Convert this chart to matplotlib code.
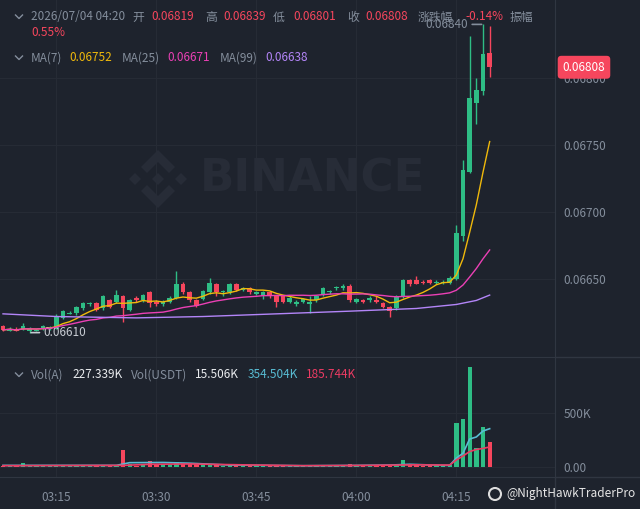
import matplotlib
matplotlib.use('Agg')
import matplotlib.pyplot as plt
import matplotlib.transforms as mtransforms
from matplotlib.patches import Polygon
from matplotlib.lines import Line2D
import numpy as np
import pandas as pd

plt.rcParams['font.family'] = ['Noto Sans CJK SC', 'DejaVu Sans']

# 1 minute candles, 03:07 -> 04:20
times = pd.date_range('2026-07-04 03:07', periods=74, freq='min')

opens = [
    0.06615, 0.06611, 0.06613, 0.06613, 0.06611, 0.06611, 0.06613, 0.06613, 0.06613, 0.06621,
    0.06624, 0.06625, 0.06628, 0.06631, 0.06632, 0.06628, 0.06634, 0.06633, 0.06637, 0.06627,
    0.06636, 0.06634, 0.06640, 0.06633, 0.06631, 0.06633, 0.06636, 0.06646, 0.06640, 0.06634,
    0.06635, 0.06640, 0.06646, 0.06640, 0.06640, 0.06646, 0.06642, 0.06643, 0.06639, 0.06637,
    0.06640, 0.06637, 0.06637, 0.06633, 0.06631, 0.06633, 0.06631, 0.06634, 0.06638, 0.06640,
    0.06643, 0.06643, 0.06645, 0.06633, 0.06634, 0.06634, 0.06634, 0.06632, 0.06629, 0.06628,
    0.06637, 0.06649, 0.06649, 0.06648, 0.06649, 0.06647, 0.06647, 0.06647, 0.06650, 0.06682,
    0.06730, 0.06781, 0.06790, 0.06819]
highs = [
    0.06616, 0.06614, 0.06614, 0.06617, 0.06614, 0.06613, 0.06616, 0.06615, 0.06624, 0.06627,
    0.06626, 0.06630, 0.06633, 0.06633, 0.06633, 0.06638, 0.06635, 0.06642, 0.06638, 0.06635,
    0.06637, 0.06639, 0.06641, 0.06634, 0.06634, 0.06637, 0.06656, 0.06648, 0.06641, 0.06635,
    0.06642, 0.06651, 0.06647, 0.06642, 0.06647, 0.06647, 0.06644, 0.06644, 0.06641, 0.06641,
    0.06641, 0.06638, 0.06638, 0.06637, 0.06634, 0.06636, 0.06637, 0.06638, 0.06644, 0.06642,
    0.06645, 0.06646, 0.06646, 0.06636, 0.06635, 0.06637, 0.06637, 0.06633, 0.06630, 0.06638,
    0.06650, 0.06650, 0.06652, 0.06649, 0.06650, 0.06649, 0.06649, 0.06652, 0.06690, 0.06739,
    0.06831, 0.06800, 0.06840, 0.06839]
lows = [
    0.06611, 0.06611, 0.06611, 0.06612, 0.06610, 0.06611, 0.06612, 0.06612, 0.06613, 0.06620,
    0.06624, 0.06623, 0.06627, 0.06630, 0.06626, 0.06627, 0.06628, 0.06632, 0.06618, 0.06626,
    0.06633, 0.06633, 0.06629, 0.06630, 0.06630, 0.06632, 0.06635, 0.06639, 0.06633, 0.06629,
    0.06634, 0.06639, 0.06637, 0.06637, 0.06639, 0.06641, 0.06641, 0.06639, 0.06638, 0.06635,
    0.06636, 0.06629, 0.06632, 0.06632, 0.06630, 0.06632, 0.06625, 0.06633, 0.06637, 0.06639,
    0.06642, 0.06642, 0.06633, 0.06632, 0.06632, 0.06633, 0.06632, 0.06628, 0.06622, 0.06627,
    0.06636, 0.06645, 0.06646, 0.06646, 0.06646, 0.06646, 0.06646, 0.06646, 0.06649, 0.06678,
    0.06729, 0.06766, 0.06787, 0.06801]
closes = [
    0.06612, 0.06613, 0.06611, 0.06615, 0.06613, 0.06612, 0.06615, 0.06614, 0.06622, 0.06626,
    0.06625, 0.06629, 0.06632, 0.06632, 0.06627, 0.06637, 0.06629, 0.06638, 0.06628, 0.06634,
    0.06634, 0.06638, 0.06632, 0.06631, 0.06633, 0.06636, 0.06646, 0.06640, 0.06634, 0.06630,
    0.06641, 0.06647, 0.06640, 0.06641, 0.06646, 0.06642, 0.06643, 0.06640, 0.06640, 0.06640,
    0.06637, 0.06633, 0.06633, 0.06636, 0.06633, 0.06635, 0.06633, 0.06637, 0.06643, 0.06641,
    0.06644, 0.06645, 0.06634, 0.06635, 0.06633, 0.06636, 0.06633, 0.06629, 0.06626, 0.06637,
    0.06649, 0.06646, 0.06646, 0.06647, 0.06647, 0.06648, 0.06648, 0.06651, 0.06684, 0.06731,
    0.06785, 0.06791, 0.06818, 0.06808]
# volume in K
volumes = [
    12, 10, 12, 37, 15, 10, 12, 10, 20, 15,
    10, 12, 15, 10, 14, 18, 12, 15, 157, 25,
    12, 20, 59, 30, 20, 22, 49, 25, 30, 28,
    22, 15, 20, 12, 15, 14, 10, 12, 10, 12,
    15, 10, 12, 10, 8, 10, 10, 12, 10, 10,
    12, 10, 28, 12, 15, 14, 21, 15, 20, 22,
    68, 15, 20, 12, 15, 10, 12, 15, 410, 442,
    929, 179, 373, 227.339]

# MA(99) (history before 03:07 not shown)
ma99_idx = [0, 8, 20, 30, 41, 52, 62, 68, 71, 73]
ma99_val = [0.06624, 0.06622, 0.06621, 0.06622, 0.06624, 0.06626, 0.06628, 0.06631, 0.06634, 0.06638]

# volume moving averages (K)
vol_ma5_idx = [0, 17, 19, 24, 28, 34, 45, 52, 58, 61, 66, 67, 68, 69, 70, 71, 72, 73]
vol_ma5_val = [15, 15, 40, 42, 35, 18, 12, 14, 18, 25, 15, 15, 83, 127, 259, 278, 333, 354.504]
vol_ma10_idx = [0, 18, 22, 28, 36, 45, 55, 62, 67, 68, 69, 70, 71, 72, 73]
vol_ma10_val = [12, 15, 25, 28, 20, 12, 15, 20, 18, 65, 102, 143, 162, 172, 185.744]

ma_legend = [0.06752, 0.06671, 0.06638]
change_pct = -0.14
amplitude_pct = 0.55
vol_usdt = 15.506

BG = '#1E232D'
GRID = '#262B35'
SEP = '#303641'
TXT = '#848E9C'
UP = '#2EBD85'
DOWN = '#F6465D'
W, H = 640, 509

x = np.arange(len(closes))
o = np.array(opens); c = np.array(closes)
hi = np.array(highs); lo = np.array(lows)
up = c >= o
cols = np.where(up, UP, DOWN)

ma7 = pd.Series(closes).rolling(7, min_periods=1).mean()
ma25 = pd.Series(closes).rolling(25, min_periods=1).mean()

fig = plt.figure(figsize=(6.4, 5.09), dpi=100, facecolor=BG)
ax = fig.add_axes([0, 1 - 357 / H, 555 / W, 357 / H], facecolor=BG)
axv = fig.add_axes([0, 1 - 477 / H, 555 / W, 119 / H], facecolor=BG)

tick_idx = [i for i, t in enumerate(times) if t.minute % 15 == 0]
tick_lab = [times[i].strftime('%H:%M') for i in tick_idx]

for a in (ax, axv):
    a.set_xlim(-0.45, 82.8)
    a.set_xticks(tick_idx)
    a.grid(True, color=GRID, lw=0.8)
    a.set_axisbelow(True)
    for s in ('top', 'left'):
        a.spines[s].set_visible(False)
    for s in ('right', 'bottom'):
        a.spines[s].set_color(SEP)
    a.yaxis.tick_right()
    a.tick_params(colors=TXT, length=0, labelsize=8.5)

# price pane
ax.vlines(x, lo, hi, colors=cols, lw=1.0, zorder=2)
ax.bar(x, np.abs(c - o), bottom=np.minimum(o, c), width=0.68, color=cols, zorder=3)
ax.plot(x, ma7, color='#F0B90B', lw=1.0, zorder=4)
ax.plot(x, ma25, color='#EB40B5', lw=1.0, zorder=4)
ax.plot(ma99_idx, ma99_val, color='#B385F8', lw=1.0, zorder=4)
ax.set_ylim(0.065918, 0.068582)
ax.set_yticks([0.0665, 0.0670, 0.0675, 0.0680])
ax.yaxis.set_major_formatter(lambda v, p: f'{v:.5f}')
ax.tick_params(axis='y', pad=6)
ax.set_xticklabels([])

# max / min markers
imax = int(np.argmax(hi)); imin = int(np.argmin(lo))
ax.annotate(f'{hi[imax]:.5f}', xy=(imax, hi[imax]), xytext=(-15, 0), textcoords='offset pixels',
            ha='right', va='center', color=TXT, fontsize=8.5,
            arrowprops=dict(arrowstyle='-', color=TXT, lw=1.2, shrinkA=1, shrinkB=1))
ax.annotate(f'{lo[imin]:.5f}', xy=(imin, lo[imin]), xytext=(14, 0), textcoords='offset pixels',
            ha='left', va='center', color='#C7CBD2', fontsize=8.5,
            arrowprops=dict(arrowstyle='-', color='#C7CBD2', lw=1.2, shrinkA=1, shrinkB=1))

# last price tag
blend = mtransforms.blended_transform_factory(ax.transAxes, ax.transData)
ax.text(584 / 555, closes[-1], f'{closes[-1]:.5f}', transform=blend, ha='center', va='center',
        color='white', fontsize=8.5, clip_on=False, zorder=10,
        bbox=dict(boxstyle='round,pad=0.42,rounding_size=0.3', fc=DOWN, ec='none'))

# volume pane
axv.bar(x, volumes, width=0.65, color=cols, zorder=3)
axv.plot(vol_ma5_idx, vol_ma5_val, color='#58BCD3', lw=1.2, zorder=4)
axv.plot(vol_ma10_idx, vol_ma10_val, color='#EB3B63', lw=1.2, zorder=4)
axv.set_ylim(-92.6, 1009)
axv.set_yticks([0, 500])
axv.set_yticklabels(['0.00', '500K'])
axv.tick_params(axis='y', pad=6)
axv.set_xticklabels(tick_lab)
axv.tick_params(axis='x', pad=10)

# frame lines beyond the axes
pix = mtransforms.IdentityTransform()
def fl(xs, ys, **kw):
    fig.add_artist(Line2D(xs, [H - y for y in ys], transform=pix, **kw))
fl([555, 640], [477, 477], color=SEP, lw=1)
fl([555, 640], [357, 357], color=SEP, lw=1)
fl([555, 555], [477, 509], color=SEP, lw=1)

# BINANCE watermark
WM = '#272C37'
cx, cy = 158, 179
shapes = [
    [(0, -29), (17, -12), (11, -6), (0, -17), (-11, -6), (-17, -12)],
    [(0, 29), (17, 12), (11, 6), (0, 17), (-11, 6), (-17, 12)],
    [(0, -6), (6, 0), (0, 6), (-6, 0)],
    [(-29, 0), (-23, -6), (-17, 0), (-23, 6)],
    [(29, 0), (23, -6), (17, 0), (23, 6)],
]
for sh in shapes:
    fig.add_artist(Polygon([(cx + a, H - (cy + b)) for a, b in sh], closed=True,
                           transform=pix, fc=WM, ec='none', zorder=0.5))
fig.text(200 / W, 1 - 179 / H, 'BINANCE', family='DejaVu Sans', weight='bold', fontsize=32.5,
         color=WM, ha='left', va='center', zorder=0.5)

# legends
def chevron(y):
    fl([15.5, 19, 22.5], [y - 2, y + 1.5, y - 2], color=TXT, lw=1.0)

def seg(xp, yp, s, col, fs=8.5):
    fig.text(xp / W, 1 - yp / H, s, color=col, fontsize=fs, ha='left', va='center')

last = len(closes) - 1
chevron(17)
header = [
    (31, times[last].strftime('%Y/%m/%d %H:%M'), TXT),
    (132, '开', TXT), (151, f'{opens[last]:.5f}', DOWN),
    (205, '高', TXT), (223, f'{highs[last]:.5f}', DOWN),
    (273, '低', TXT), (293, f'{lows[last]:.5f}', DOWN),
    (347, '收', TXT), (365, f'{closes[last]:.5f}', DOWN),
    (418, '涨跌幅', TXT), (465, f'{change_pct:.2f}%', DOWN),
    (510, '振幅', TXT),
]
for xp, s, col in header:
    seg(xp, 17, s, col)
seg(31, 33, f'{amplitude_pct:.2f}%', DOWN)

chevron(58)
ma_cols = ['#F0B90B', '#EB40B5', '#B385F8']
ma_pos = [(31, 69), (122, 167), (220, 265)]
for (xl, xv), n, v, col in zip(ma_pos, [7, 25, 99], ma_legend, ma_cols):
    seg(xl, 58, f'MA({n})', TXT)
    seg(xv, 58, f'{v:.5f}', col)

chevron(375)
seg(31, 375, 'Vol(A)', TXT)
seg(72, 375, f'{volumes[-1]:.3f}K', '#EAECEF')
seg(131, 375, 'Vol(USDT)', TXT)
seg(195, 375, f'{vol_usdt:.3f}K', '#EAECEF')
seg(248, 375, f'{vol_ma5_val[-1]:.3f}K', '#58BCD3')
seg(306, 375, f'{vol_ma10_val[-1]:.3f}K', '#EB3B63')

# footer handle
fig.add_artist(plt.Circle((495, H - 494), 6, transform=pix, fc='none', ec='#DDDDDD', lw=1.5))
fig.text(506 / W, 1 - 494 / H, '@NightHawkTraderPro', color='#E6E6E6', fontsize=8.5,
         ha='left', va='center')

fig.savefig('out.png', dpi=100, facecolor=BG)
